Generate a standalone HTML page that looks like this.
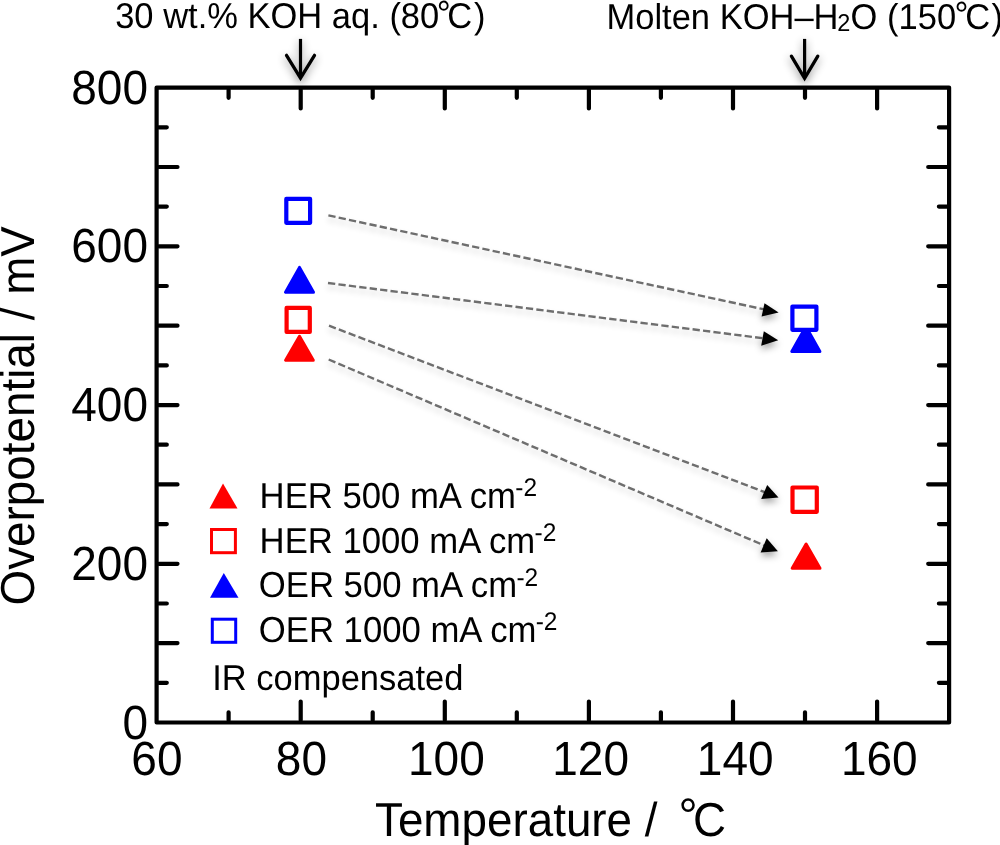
<!DOCTYPE html>
<html><head><meta charset="utf-8"><title>Overpotential vs Temperature</title>
<style>
html,body{margin:0;padding:0;background:#fff;}
body{width:1000px;height:845px;overflow:hidden;}
svg{display:block;}
text{font-family:"Liberation Sans",Arial,Helvetica,sans-serif;fill:#000;text-rendering:geometricPrecision;}
</style></head>
<body>
<svg width="1000" height="845" viewBox="0 0 1000 845">
<defs>
<filter id="sh" x="-50%" y="-50%" width="200%" height="200%">
<feDropShadow dx="0" dy="3" stdDeviation="4" flood-color="#000" flood-opacity="0.45"/>
</filter>
<filter id="sh2" x="-100%" y="-100%" width="300%" height="300%">
<feDropShadow dx="0" dy="4" stdDeviation="3.5" flood-color="#000" flood-opacity="0.35"/>
</filter>
<filter id="shl" x="-10%" y="-50%" width="120%" height="200%">
<feGaussianBlur in="SourceAlpha" stdDeviation="3" result="s"/>
<feOffset in="s" dy="4" result="so"/>
<feComponentTransfer in="so" result="sf"><feFuncA type="linear" slope="0.2"/></feComponentTransfer>
<feMerge><feMergeNode in="sf"/><feMergeNode in="SourceGraphic"/></feMerge>
</filter>
</defs>
<rect width="1000" height="845" fill="#fff"/>

<g>
<!-- top annotations -->
<text x="115.2" y="28" font-size="34.5" transform="matrix(1 0 0 1.04 0 -1.120)">30 wt.% KOH aq. (80<tspan x="436.8" y="26.3" font-size="35">°</tspan><tspan x="447.3" y="28">C</tspan><tspan x="474">)</tspan></text>
<text x="606.5" y="29" font-size="34.5" transform="matrix(1 0 0 1.04 0 -1.160)">Molten KOH–H<tspan x="837.2" y="31.4" font-size="23.5">2</tspan><tspan x="850.6" y="29">O (150</tspan><tspan x="954.5" y="27" font-size="35">°</tspan><tspan x="965.3" y="29">C</tspan><tspan x="991.6">)</tspan></text>
<!-- y tick labels -->
<text x="148" y="103.7" font-size="46" text-anchor="end" transform="matrix(1 0 0 1.04 0 -4.148)">800</text>
<text x="148" y="262.4" font-size="46" text-anchor="end" transform="matrix(1 0 0 1.04 0 -10.496)">600</text>
<text x="148" y="421.1" font-size="46" text-anchor="end" transform="matrix(1 0 0 1.04 0 -16.844)">400</text>
<text x="148" y="579.8" font-size="46" text-anchor="end" transform="matrix(1 0 0 1.04 0 -23.192)">200</text>
<text x="148" y="738.5" font-size="46" text-anchor="end" transform="matrix(1 0 0 1.04 0 -29.540)">0</text>
<!-- x tick labels -->
<text x="156.9" y="774.8" font-size="46" text-anchor="middle" transform="matrix(1 0 0 1.04 0 -30.992)">60</text>
<text x="301.45" y="774.8" font-size="46" text-anchor="middle" transform="matrix(1 0 0 1.04 0 -30.992)">80</text>
<text x="446.4" y="774.8" font-size="46" text-anchor="middle" transform="matrix(1 0 0 1.04 0 -30.992)">100</text>
<text x="590.6" y="774.8" font-size="46" text-anchor="middle" transform="matrix(1 0 0 1.04 0 -30.992)">120</text>
<text x="735.2" y="774.8" font-size="46" text-anchor="middle" transform="matrix(1 0 0 1.04 0 -30.992)">140</text>
<text x="879.3" y="774.8" font-size="46" text-anchor="middle" transform="matrix(1 0 0 1.04 0 -30.992)">160</text>
<!-- axis titles -->
<text x="375" y="835.9" font-size="45.8" transform="matrix(1 0 0 1.04 0 -33.436)">Temperature / <tspan x="678.4" y="832.8" font-size="48">°</tspan><tspan x="692.9" y="835.9">C</tspan></text>
<text transform="translate(33.7,605.4) rotate(-90) scale(1,1.04)" font-size="45.8">Overpotential / mV</text>
<!-- legend text -->
<text x="259.6" y="508" font-size="34.7" transform="matrix(1 0 0 1.04 0 -20.320)">HER 500 mA cm<tspan font-size="24.5" dy="-11.2" dx="-0.7">-2</tspan></text>
<text x="259.6" y="553" font-size="34.7" transform="matrix(1 0 0 1.04 0 -22.120)">HER 1000 mA cm<tspan font-size="24.5" dy="-11.2" dx="-0.7">-2</tspan></text>
<text x="258.8" y="597.2" font-size="34.7" transform="matrix(1 0 0 1.04 0 -23.888)">OER 500 mA cm<tspan font-size="24.5" dy="-11.2" dx="-0.7">-2</tspan></text>
<text x="258.8" y="642" font-size="34.7" transform="matrix(1 0 0 1.04 0 -25.680)">OER 1000 mA cm<tspan font-size="24.5" dy="-11.2" dx="-0.7">-2</tspan></text>
<text x="212.2" y="689.8" font-size="34.5" transform="matrix(1 0 0 1.04 0 -27.592)">IR compensated</text>
</g>
<!-- down arrows -->
<g stroke="#000" fill="none" filter="url(#sh)">
<line x1="300.5" y1="38.9" x2="300.5" y2="77" stroke-width="3.2"/>
<polyline points="286.5,55.3 300.5,78 314.5,55.3" stroke-width="3.3" stroke-linecap="round" stroke-linejoin="miter"/>
<line x1="804.6" y1="38.9" x2="804.6" y2="78" stroke-width="3.2"/>
<polyline points="791.4,56.2 804.6,78.3 817.8,56.2" stroke-width="3.3" stroke-linecap="round" stroke-linejoin="miter"/>
</g>
<!-- frame + ticks -->
<g stroke="#000" stroke-width="4.2" fill="none" stroke-linecap="round">
<rect x="156.6" y="87.6" width="792.5" height="634.9" stroke-linejoin="round"/>
<path d="M158.8 682.8H166.8M946.9 682.8H938.9M158.8 643.1H177.5M946.9 643.1H928.2M158.8 603.5H166.8M946.9 603.5H938.9M158.8 563.8H177.5M946.9 563.8H928.2M158.8 524.1H166.8M946.9 524.1H938.9M158.8 484.4H177.5M946.9 484.4H928.2M158.8 444.7H166.8M946.9 444.7H938.9M158.8 405.1H177.5M946.9 405.1H928.2M158.8 365.4H166.8M946.9 365.4H938.9M158.8 325.7H177.5M946.9 325.7H928.2M158.8 286.0H166.8M946.9 286.0H938.9M158.8 246.3H177.5M946.9 246.3H928.2M158.8 206.6H166.8M946.9 206.6H938.9M158.8 167.0H177.5M946.9 167.0H928.2M158.8 127.3H166.8M946.9 127.3H938.9M228.6 720.3V712.3M228.6 89.8V97.8M300.7 720.3V701.6M300.7 89.8V108.5M372.7 720.3V712.3M372.7 89.8V97.8M444.8 720.3V701.6M444.8 89.8V108.5M516.8 720.3V712.3M516.8 89.8V97.8M588.9 720.3V701.6M588.9 89.8V108.5M660.9 720.3V712.3M660.9 89.8V97.8M733.0 720.3V701.6M733.0 89.8V108.5M805.0 720.3V712.3M805.0 89.8V97.8M877.1 720.3V701.6M877.1 89.8V108.5"/>
</g>
<!-- dashed connectors -->
<g stroke="#6e6e6e" stroke-width="2.4" stroke-dasharray="7.3 3.2" fill="none" filter="url(#shl)">
<line x1="328.4" y1="215.4" x2="770.2" y2="310.7"/>
<line x1="328" y1="283" x2="769.7" y2="339.1"/>
<line x1="329" y1="325.7" x2="770.5" y2="494.3"/>
<line x1="328.7" y1="359.5" x2="770.0" y2="547.9"/>
</g>
<g fill="#000" filter="url(#sh2)">
<polygon points="778.6,312.5 764.5,303.2 761.6,316.6"/>
<polygon points="778.2,340.2 763.8,331.2 761.2,345.7"/>
<polygon points="778.5,497.4 767.2,485.1 761.2,499.1"/>
<polygon points="777.9,551.2 766.7,538.3 760.6,552.5"/>
</g>
<!-- data markers -->
<g stroke-linejoin="round" stroke-width="3">
<polygon points="299.5,267.4 285.5,292.3 313.5,292.3" fill="#0000ff" stroke="#0000ff"/>
<polygon points="299.5,336.3 285.6,360.2 313.3,360.2" fill="#ff0000" stroke="#ff0000"/>
<polygon points="805.9,326.5 791.8,351.4 819.9,351.4" fill="#0000ff" stroke="#0000ff"/>
<polygon points="806.1,544 792.2,568.3 820,568.3" fill="#ff0000" stroke="#ff0000"/>
</g>
<g stroke-linejoin="round" stroke-width="4.2" fill="#fff">
<rect x="286.3" y="198.9" width="23.8" height="23.9" stroke="#0000ff"/>
<rect x="286.6" y="307.9" width="23.2" height="24" stroke="#ff0000"/>
<rect x="792.4" y="306.6" width="24" height="23.2" stroke="#0000ff"/>
<rect x="792.5" y="487.5" width="24.3" height="24.3" stroke="#ff0000"/>
</g>
<!-- legend markers -->
<polygon points="223,483.5 209.5,508.5 237.5,508.5" fill="#ff0000"/>
<rect x="211.5" y="529.5" width="23.9" height="23.2" fill="none" stroke="#ff0000" stroke-width="3"/>
<polygon points="223.8,573 210,597.7 238.5,597.7" fill="#0000ff"/>
<rect x="212.3" y="619.2" width="23.4" height="23.1" fill="none" stroke="#0000ff" stroke-width="3"/>
</svg>
</body></html>
